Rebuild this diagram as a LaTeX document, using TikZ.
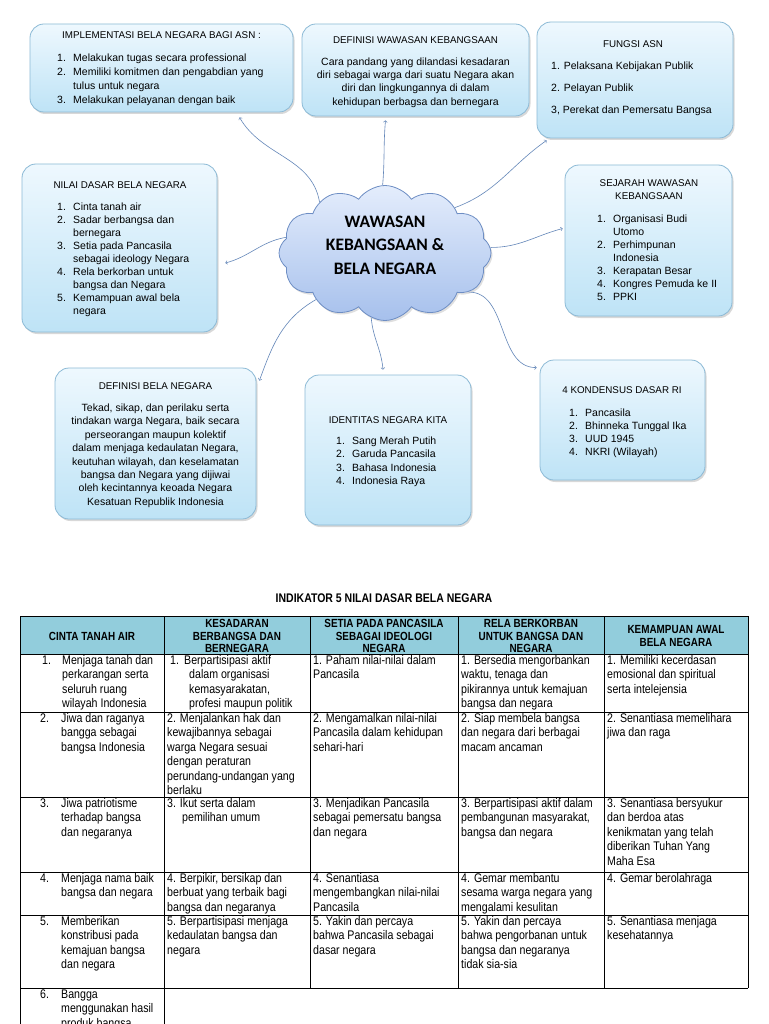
\documentclass[tikz,border=0pt]{standalone}
\usepackage{fontspec}
\setmainfont{Liberation Sans}
\newfontfamily\narrowfont[FakeStretch=0.85]{Liberation Sans}
\newfontfamily\condfont[FakeStretch=0.84]{Liberation Sans}
\newfontfamily\cloudfont{Carlito}
\usetikzlibrary{shapes.symbols,shadows}
\definecolor{boxline}{RGB}{140,186,214}
\definecolor{boxtop}{RGB}{238,248,254}
\definecolor{boxbot}{RGB}{190,227,246}
\definecolor{cloudtop}{RGB}{228,237,252}
\definecolor{cloudbot}{RGB}{166,192,236}
\definecolor{cloudline}{RGB}{110,142,196}
\definecolor{linkblue}{RGB}{100,135,185}
\definecolor{headfill}{RGB}{146,205,220}
\newcommand{\celltext}[1]{\begin{tabular}[t]{@{}l@{}}#1\end{tabular}}
\newcommand{\ctrtext}[1]{\begin{tabular}[t]{@{}c@{}}#1\end{tabular}}
\newcommand{\numtext}[2]{\begin{tabular}[t]{@{}p{#1}@{}l@{}}#2\end{tabular}}

\begin{document}
\begin{tikzpicture}[x=1pt, y=-1pt,
    mapbox/.style={draw=boxline, line width=0.8pt, rounded corners=14pt,
                   top color=boxtop, bottom color=boxbot,
                   drop shadow={shadow xshift=1.5pt, shadow yshift=-2pt, opacity=0.3}},
    boxhead/.style={font=\fontsize{9.8}{13}\selectfont, inner sep=0pt, anchor=base},
    boxtext/.style={font=\fontsize{10.5}{13.3}\selectfont, inner sep=0pt, anchor=base west},
    boxpara/.style={font=\fontsize{10.5}{13.2}\selectfont, inner sep=0pt, anchor=base},
    arrowlink/.style={draw=linkblue, line width=0.6pt, ->},
    tcell/.style={font={\narrowfont\fontsize{12.5}{14.5}\selectfont}, inner sep=0pt, anchor=base west},
    thead/.style={font={\condfont\bfseries\fontsize{11.8}{12.5}\selectfont}, inner sep=0pt, align=center},
    tabline/.style={line width=0.7pt},
  ]
  \useasboundingbox (0,0) rectangle (768,1024);
  \fill[white] (0,0) rectangle (768,1024);

  %% boxes of the mind map
  \node[mapbox, minimum width=263pt, minimum height=88pt] (impl) at (161.5,68) {};
  \node[mapbox, minimum width=227pt, minimum height=92pt] (defwk) at (415.5,70) {};
  \node[mapbox, minimum width=196pt, minimum height=116pt] (fungsi) at (635,80) {};
  \node[mapbox, minimum width=195pt, minimum height=168pt] (nilai) at (119.5,248) {};
  \node[mapbox, minimum width=167pt, minimum height=151pt] (sejarah) at (648.5,240.5) {};
  \node[mapbox, minimum width=201pt, minimum height=151pt] (defbn) at (155.5,443.5) {};
  \node[mapbox, minimum width=166pt, minimum height=150pt] (identitas) at (388,450) {};
  \node[mapbox, minimum width=165pt, minimum height=120pt] (kondensus) at (622.5,420) {};

  %% centre cloud
  \node[cloud, cloud puffs=12, cloud puff arc=110, aspect=1.57,
        minimum width=212pt, minimum height=135pt, draw=cloudline, line width=0.8pt,
        top color=cloudtop, bottom color=cloudbot,
        drop shadow={shadow xshift=1.5pt, shadow yshift=-2pt, opacity=0.25}] (pusat) at (385,253) {};
  \node[font={\cloudfont\bfseries\fontsize{17.5}{23.5}\selectfont}, align=center] (judul) at (385,245)
    {WAWASAN\\KEBANGSAAN \&\\BELA NEGARA};

  %% box texts
  \node[boxhead] (impl-h) at (161.5,38.5) {IMPLEMENTASI BELA NEGARA BAGI ASN :};
  \node[boxtext, font=\fontsize{10.5}{14}\selectfont] (impl-t) at (57,61.5) {\numtext{16pt}{1. & Melakukan tugas secara professional\\
    2. & Memiliki komitmen dan pengabdian yang\\ & tulus untuk negara\\ 3. & Melakukan pelayanan dengan baik}};

  \node[boxhead] (defwk-h) at (415.5,43.5) {DEFINISI WAWASAN KEBANGSAAN};
  \node[boxpara] (defwk-t) at (415.5,65.5) {\ctrtext{Cara pandang yang dilandasi kesadaran\\
    diri sebagai warga dari suatu Negara akan\\ diri dan lingkungannya di dalam\\
    kehidupan berbagsa dan bernegara}};

  \node[boxhead] (fungsi-h) at (633,47.5) {FUNGSI ASN};
  \node[boxtext, font=\fontsize{10.5}{22}\selectfont] (fungsi-t) at (551,69.5) {\celltext{1. Pelaksana Kebijakan Publik\\
    2. Pelayan Publik\\ 3, Perekat dan Pemersatu Bangsa}};

  \node[boxhead] (nilai-h) at (120,188.5) {NILAI DASAR BELA NEGARA};
  \node[boxtext, font=\fontsize{10.5}{13}\selectfont] (nilai-t) at (57,210.5) {\numtext{16pt}{1. & Cinta tanah air\\
    2. & Sadar berbangsa dan\\ & bernegara\\ 3. & Setia pada Pancasila\\ & sebagai ideology Negara\\
    4. & Rela berkorban untuk\\ & bangsa dan Negara\\ 5. & Kemampuan awal bela\\ & negara}};

  \node[boxhead] (sejarah-h) at (649,186.5) {\ctrtext{SEJARAH WAWASAN\\KEBANGSAAN}};
  \node[boxtext, font=\fontsize{10.5}{13}\selectfont] (sejarah-t) at (597,222.5) {\numtext{16pt}{1. & Organisasi Budi\\
    & Utomo\\ 2. & Perhimpunan\\ & Indonesia\\ 3. & Kerapatan Besar\\ 4. & Kongres Pemuda ke II\\ 5. & PPKI}};

  \node[boxhead] (defbn-h) at (155.5,389.5) {DEFINISI BELA NEGARA};
  \node[boxpara, font=\fontsize{10.5}{13.4}\selectfont] (defbn-t) at (155.5,411.5) {\ctrtext{Tekad, sikap, dan perilaku serta\\
    tindakan warga Negara, baik secara\\ perseorangan maupun kolektif\\ dalam menjaga kedaulatan Negara,\\
    keutuhan wilayah, dan keselamatan\\ bangsa dan Negara yang dijiwai\\ oleh kecintannya keoada Negara\\
    Kesatuan Republik Indonesia}};

  \node[boxhead] (identitas-h) at (388,423.5) {IDENTITAS NEGARA KITA};
  \node[boxtext] (identitas-t) at (336,444.5) {\numtext{16pt}{1. & Sang Merah Putih\\ 2. & Garuda Pancasila\\
    3. & Bahasa Indonesia\\ 4. & Indonesia Raya}};

  \node[boxhead] (kondensus-h) at (622,393.5) {4 KONDENSUS DASAR RI};
  \node[boxtext, font=\fontsize{10.5}{13}\selectfont] (kondensus-t) at (569,416.5) {\numtext{16pt}{1. & Pancasila\\
    2. & Bhinneka Tunggal Ika\\ 3. & UUD 1945\\ 4. & NKRI (Wilayah)}};

  %% connectors
  \draw[arrowlink] (pusat.142) to[out=100, in=-60] ([xshift=78pt, yshift=-5pt]impl.south);
  \draw[arrowlink] (pusat.92) to[out=85, in=-95] ([xshift=-30pt, yshift=-4pt]defwk.south);
  \draw[arrowlink] (pusat.33) to[out=20, in=-145] ([xshift=10pt, yshift=-2pt]fungsi.south west);
  \draw[arrowlink] (pusat.3) to[out=0, in=195] ([xshift=-2pt, yshift=12pt]sejarah.west);
  \draw[arrowlink] (pusat.171) to[out=190, in=15] ([xshift=8pt, yshift=-15pt]nilai.east);
  \draw[arrowlink] (pusat.214) to[out=210, in=70] ([xshift=3pt, yshift=-13pt]defbn.north east);
  \draw[arrowlink] (pusat.258) to[out=-85, in=95] ([xshift=-5pt, yshift=5pt]identitas.north);
  \draw[arrowlink] (pusat.335) to[out=0, in=180] ([xshift=-3pt, yshift=-8pt]kondensus.north west);

  %% table
  \node[font={\condfont\bfseries\fontsize{12.5}{14}\selectfont}, inner sep=0pt, anchor=base] (tjudul) at (384,602.5)
    {INDIKATOR 5 NILAI DASAR BELA NEGARA};
  \fill[headfill] (20,616) rectangle (748,654);
  \foreach \x in {20,164,310,458,604,748}
    \draw[tabline] (\x,616) -- (\x,988);
  \foreach \y in {616,654,712,797,872,915,988}
    \draw[tabline] (20,\y) -- (748,\y);
  \draw[tabline] (20,988) -- (20,1030);
  \draw[tabline] (164,988) -- (164,1030);

  %% header row
  \node[thead] (h1) at (92,636) {CINTA TANAH AIR};
  \node[thead] (h2) at (237,636) {KESADARAN\\BERBANGSA DAN\\BERNEGARA};
  \node[thead] (h3) at (384,636) {SETIA PADA PANCASILA\\SEBAGAI IDEOLOGI\\NEGARA};
  \node[thead] (h4) at (531,636) {RELA BERKORBAN\\UNTUK BANGSA DAN\\NEGARA};
  \node[thead] (h5) at (676,636) {KEMAMPUAN AWAL\\BELA NEGARA};

  %% column 1
  \node[tcell] (c1r1) at (42,664) {\numtext{20pt}{1. & Menjaga tanah dan\\ & perkarangan serta\\ & seluruh ruang\\ & wilayah Indonesia}};
  \node[tcell] (c1r2) at (40,722) {\numtext{21pt}{2. & Jiwa dan raganya\\ & bangga sebagai\\ & bangsa Indonesia}};
  \node[tcell] (c1r3) at (40,807) {\numtext{21pt}{3. & Jiwa patriotisme\\ & terhadap bangsa\\ & dan negaranya}};
  \node[tcell] (c1r4) at (40,882) {\numtext{21pt}{4. & Menjaga nama baik\\ & bangsa dan negara}};
  \node[tcell] (c1r5) at (40,925) {\numtext{21pt}{5. & Memberikan\\ & konstribusi pada\\ & kemajuan bangsa\\ & dan negara}};
  \node[tcell] (c1r6) at (40,998) {\numtext{21pt}{6. & Bangga\\ & menggunakan hasil\\ & produk bangsa}};

  %% column 2
  \node[tcell] (c2r1) at (170,664) {\numtext{14pt}{1. & Berpartisipasi aktif\\ & \hspace{5pt}dalam organisasi\\
    & \hspace{5pt}kemasyarakatan,\\ & \hspace{5pt}profesi maupun politik}};
  \node[tcell] (c2r2) at (167,722) {\celltext{2. Menjalankan hak dan\\kewajibannya sebagai\\warga Negara sesuai\\
    dengan peraturan\\perundang-undangan yang\\berlaku}};
  \node[tcell] (c2r3) at (167,807) {\celltext{3. Ikut serta dalam\\\hspace{15pt}pemilihan umum}};
  \node[tcell] (c2r4) at (167,882) {\celltext{4. Berpikir, bersikap dan\\berbuat yang terbaik bagi\\bangsa dan negaranya}};
  \node[tcell] (c2r5) at (167,925) {\celltext{5. Berpartisipasi menjaga\\kedaulatan bangsa dan\\negara}};

  %% column 3
  \node[tcell] (c3r1) at (313,664) {\celltext{1. Paham nilai-nilai dalam\\Pancasila}};
  \node[tcell] (c3r2) at (313,722) {\celltext{2. Mengamalkan nilai-nilai\\Pancasila dalam kehidupan\\sehari-hari}};
  \node[tcell] (c3r3) at (313,807) {\celltext{3. Menjadikan Pancasila\\sebagai pemersatu bangsa\\dan negara}};
  \node[tcell] (c3r4) at (313,882) {\celltext{4. Senantiasa\\mengembangkan nilai-nilai\\Pancasila}};
  \node[tcell] (c3r5) at (313,925) {\celltext{5. Yakin dan percaya\\bahwa Pancasila sebagai\\dasar negara}};

  %% column 4
  \node[tcell] (c4r1) at (461,664) {\celltext{1. Bersedia mengorbankan\\waktu, tenaga dan\\pikirannya untuk kemajuan\\bangsa dan negara}};
  \node[tcell] (c4r2) at (461,722) {\celltext{2. Siap membela bangsa\\dan negara dari berbagai\\macam ancaman}};
  \node[tcell] (c4r3) at (461,807) {\celltext{3. Berpartisipasi aktif dalam\\pembangunan masyarakat,\\bangsa dan negara}};
  \node[tcell] (c4r4) at (461,882) {\celltext{4. Gemar membantu\\sesama warga negara yang\\mengalami kesulitan}};
  \node[tcell] (c4r5) at (461,925) {\celltext{5. Yakin dan percaya\\bahwa pengorbanan untuk\\bangsa dan negaranya\\tidak sia-sia}};

  %% column 5
  \node[tcell] (c5r1) at (607,664) {\celltext{1. Memiliki kecerdasan\\emosional dan spiritual\\serta intelejensia}};
  \node[tcell] (c5r2) at (607,722) {\celltext{2. Senantiasa memelihara\\jiwa dan raga}};
  \node[tcell] (c5r3) at (607,807) {\celltext{3. Senantiasa bersyukur\\dan berdoa atas\\kenikmatan yang telah\\diberikan Tuhan Yang\\Maha Esa}};
  \node[tcell] (c5r4) at (607,882) {\celltext{4. Gemar berolahraga}};
  \node[tcell] (c5r5) at (607,925) {\celltext{5. Senantiasa menjaga\\kesehatannya}};
\end{tikzpicture}
\end{document}
